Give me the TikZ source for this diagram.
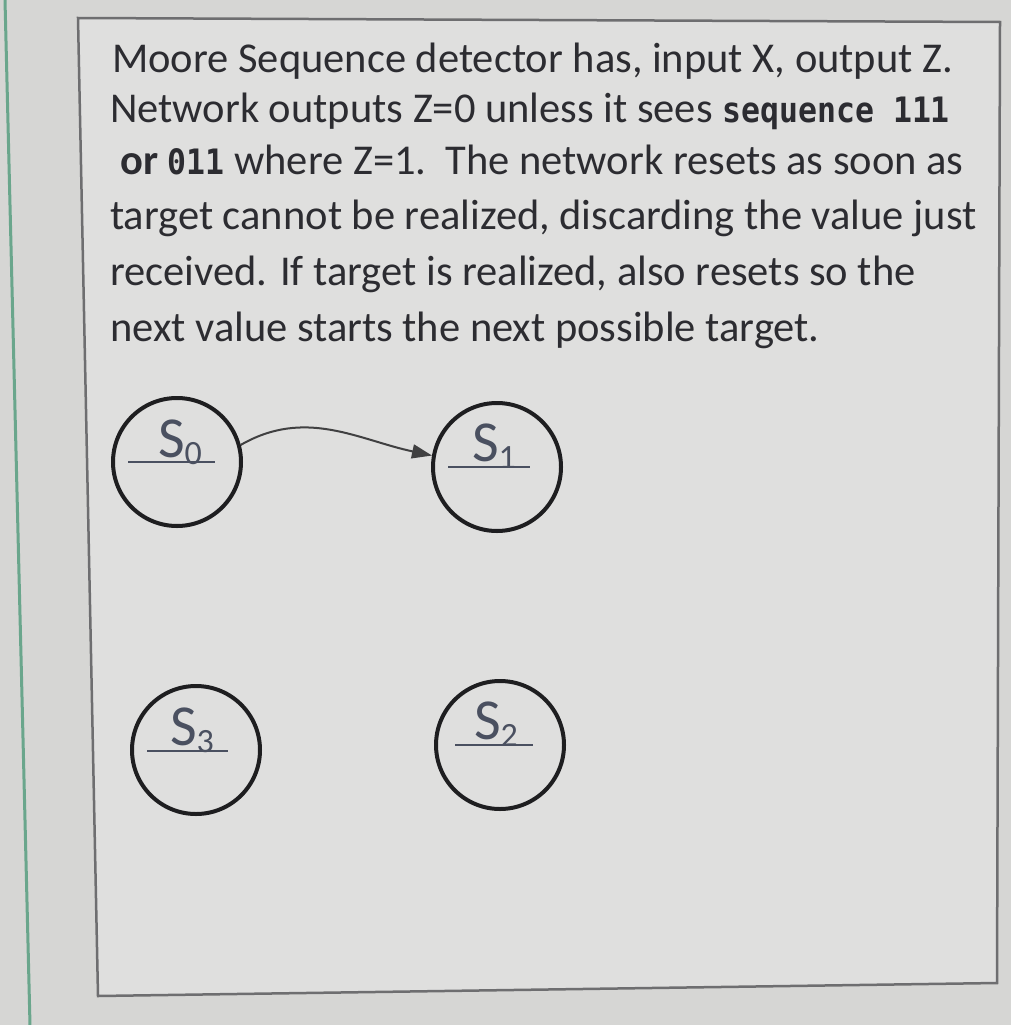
\documentclass[tikz,border=0pt]{standalone}
\usepackage{fontspec}
\setmainfont{Carlito}
\newfontfamily\monob{DejaVu Sans Mono}
\usetikzlibrary{arrows.meta}
\definecolor{bgout}{HTML}{D6D6D4}
\definecolor{bgpanel}{HTML}{DFDFDE}
\definecolor{panelline}{HTML}{6E6E70}
\definecolor{txt}{HTML}{2C2C31}
\definecolor{lblc}{HTML}{4A5060}
\definecolor{ringc}{HTML}{1E1E20}
\definecolor{greenl}{HTML}{6AA68C}
\newcommand\lsub[1]{\raisebox{-7pt}{\fontsize{34}{34}\selectfont #1}}
\newcommand\mb[1]{\scalebox{0.9}[1]{\monob\bfseries\fontsize{35}{40}\selectfont #1}}
\begin{document}
\begin{tikzpicture}[x=1pt,y=-1pt,
  txtline/.style={anchor=base west,inner sep=0pt,text=txt,font=\fontsize{42.5}{50}\selectfont},
  state/.style={circle,draw=ringc,line width=4pt,minimum size=128pt,inner sep=0pt},
  lbl/.style={anchor=base,inner sep=0pt,text=lblc,font=\fontsize{58}{58}\selectfont},
  uline/.style={draw=lblc,line width=2.5pt},
  trans/.style={draw=ringc!85,line width=2pt,-{Triangle[length=20pt,width=14pt]}}]
\useasboundingbox (0,0) rectangle (1011,1025);
\fill[bgout] (0,0) rectangle (1011,1025);
\draw[greenl,line width=3pt] (5,0) -- (30,1025);
\filldraw[fill=bgpanel,draw=panelline,line width=2.5pt] (78,18) -- (1000,22) -- (997,983) -- (98,996) -- cycle;
% text
\node[txtline] (t1) at (112,72) {Moore Sequence detector has, input X, output Z.};
\node[txtline] (t2) at (110,122) {Network outputs Z=0 unless it sees \mb{sequence 111}};
\node[txtline] (t3) at (120,174) {\textbf{or} \mb{011} where Z=1.\ \ The network resets as soon as};
\node[txtline] (t4) at (110,229) {target cannot be realized, discarding the value just};
\node[txtline] (t5) at (110,285) {received. If target is realized, also resets so the};
\node[txtline] (t6) at (110,341) {next value starts the next possible target.};
% states
\node[state] (S0) at (177,462) {};
\node[state] (S1) at (497,467) {};
\node[state] (S3) at (196,750) {};
\node[state] (S2) at (500,745) {};
% labels
\node[lbl] (l0) at (180,457) {S\lsub{0}};
\node[lbl] (l1) at (494,461) {S\lsub{1}};
\node[lbl] (l3) at (192,745) {S\lsub{3}};
\node[lbl] (l2) at (496,739) {S\lsub{2}};
\coordinate (u0a) at (128,462); \coordinate (u0b) at (215,462);
\coordinate (u1a) at (448,467); \coordinate (u1b) at (530,467);
\coordinate (u3a) at (147,751); \coordinate (u3b) at (228,751);
\coordinate (u2a) at (455,745); \coordinate (u2b) at (533,745);
\draw[uline] (u0a) -- (u0b);
\draw[uline] (u1a) -- (u1b);
\draw[uline] (u3a) -- (u3b);
\draw[uline] (u2a) -- (u2b);
% transition
\draw[trans] (S0.15) to[out=30,in=168] (S1.170);
\end{tikzpicture}
\end{document}
